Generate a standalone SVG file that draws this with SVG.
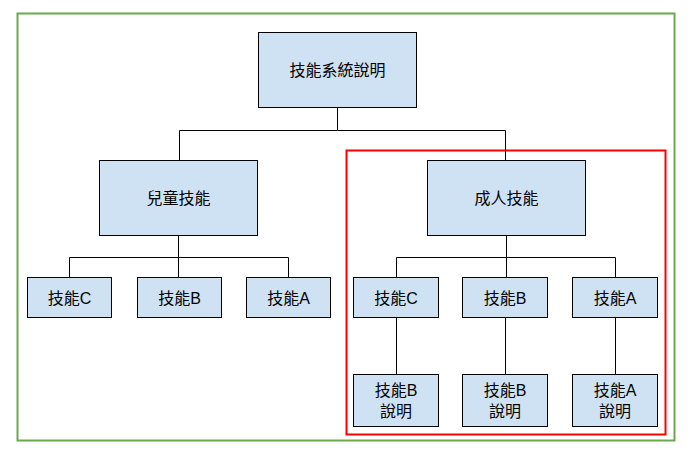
<svg xmlns="http://www.w3.org/2000/svg" width="696" height="459" viewBox="0 0 696 459">
<style>
.n{fill:#cfe2f3;stroke:#000;stroke-width:1}
text{font-family:"Liberation Sans","Noto Sans CJK TC",sans-serif;font-size:16px;fill:#000;text-anchor:middle}
.c{fill:none;stroke:#000;stroke-width:1}
</style>
<rect x="0" y="0" width="696" height="459" fill="#fff"/>
<rect x="17.5" y="13.5" width="657" height="427" fill="none" stroke="#6aa84f" stroke-width="2"/>
<rect x="346.5" y="150.5" width="319" height="284" fill="none" stroke="#ff0000" stroke-width="2"/>
<g id="connectors" class="c">
<path d="M337.5 107V130.5H179.5V160M337.5 130.5H505.5V160"/>
<path d="M178.5 235V257.5H69.5V278M178.5 257.5V278M178.5 257.5H288.5V278"/>
<path d="M506.5 235V257.5H396.5V278M506.5 257.5V278M506.5 257.5H615.5V278"/>
<path d="M396.5 317V375M505.5 317V375M615.5 317V375"/>
</g>
<g id="root"><rect class="n" x="258.5" y="32.5" width="158" height="75"/><text x="337.5" y="76">技能系統說明</text></g>
<g id="child"><rect class="n" x="99.5" y="160.5" width="158" height="75"/><text x="178.5" y="204">兒童技能</text></g>
<g id="adult"><rect class="n" x="427.5" y="160.5" width="158" height="75"/><text x="506.5" y="204">成人技能</text></g>
<g id="lc"><rect class="n" x="27.5" y="277.5" width="84" height="40"/><text x="69.5" y="304">技能C</text></g>
<g id="lb"><rect class="n" x="137.5" y="277.5" width="84" height="40"/><text x="179.5" y="304">技能B</text></g>
<g id="la"><rect class="n" x="246.5" y="277.5" width="84" height="40"/><text x="288.5" y="304">技能A</text></g>
<g id="rc"><rect class="n" x="353.5" y="277.5" width="85" height="40"/><text x="396" y="304">技能C</text></g>
<g id="rb"><rect class="n" x="462.5" y="277.5" width="85" height="40"/><text x="505" y="304">技能B</text></g>
<g id="ra"><rect class="n" x="572.5" y="277.5" width="85" height="40"/><text x="615" y="304">技能A</text></g>
<g id="d1"><rect class="n" x="353.5" y="374.5" width="85" height="52"/><text x="396" y="396">技能B</text><text x="396" y="417">說明</text></g>
<g id="d2"><rect class="n" x="462.5" y="374.5" width="85" height="52"/><text x="505" y="396">技能B</text><text x="505" y="417">說明</text></g>
<g id="d3"><rect class="n" x="572.5" y="374.5" width="85" height="52"/><text x="615" y="396">技能A</text><text x="615" y="417">說明</text></g>
</svg>
